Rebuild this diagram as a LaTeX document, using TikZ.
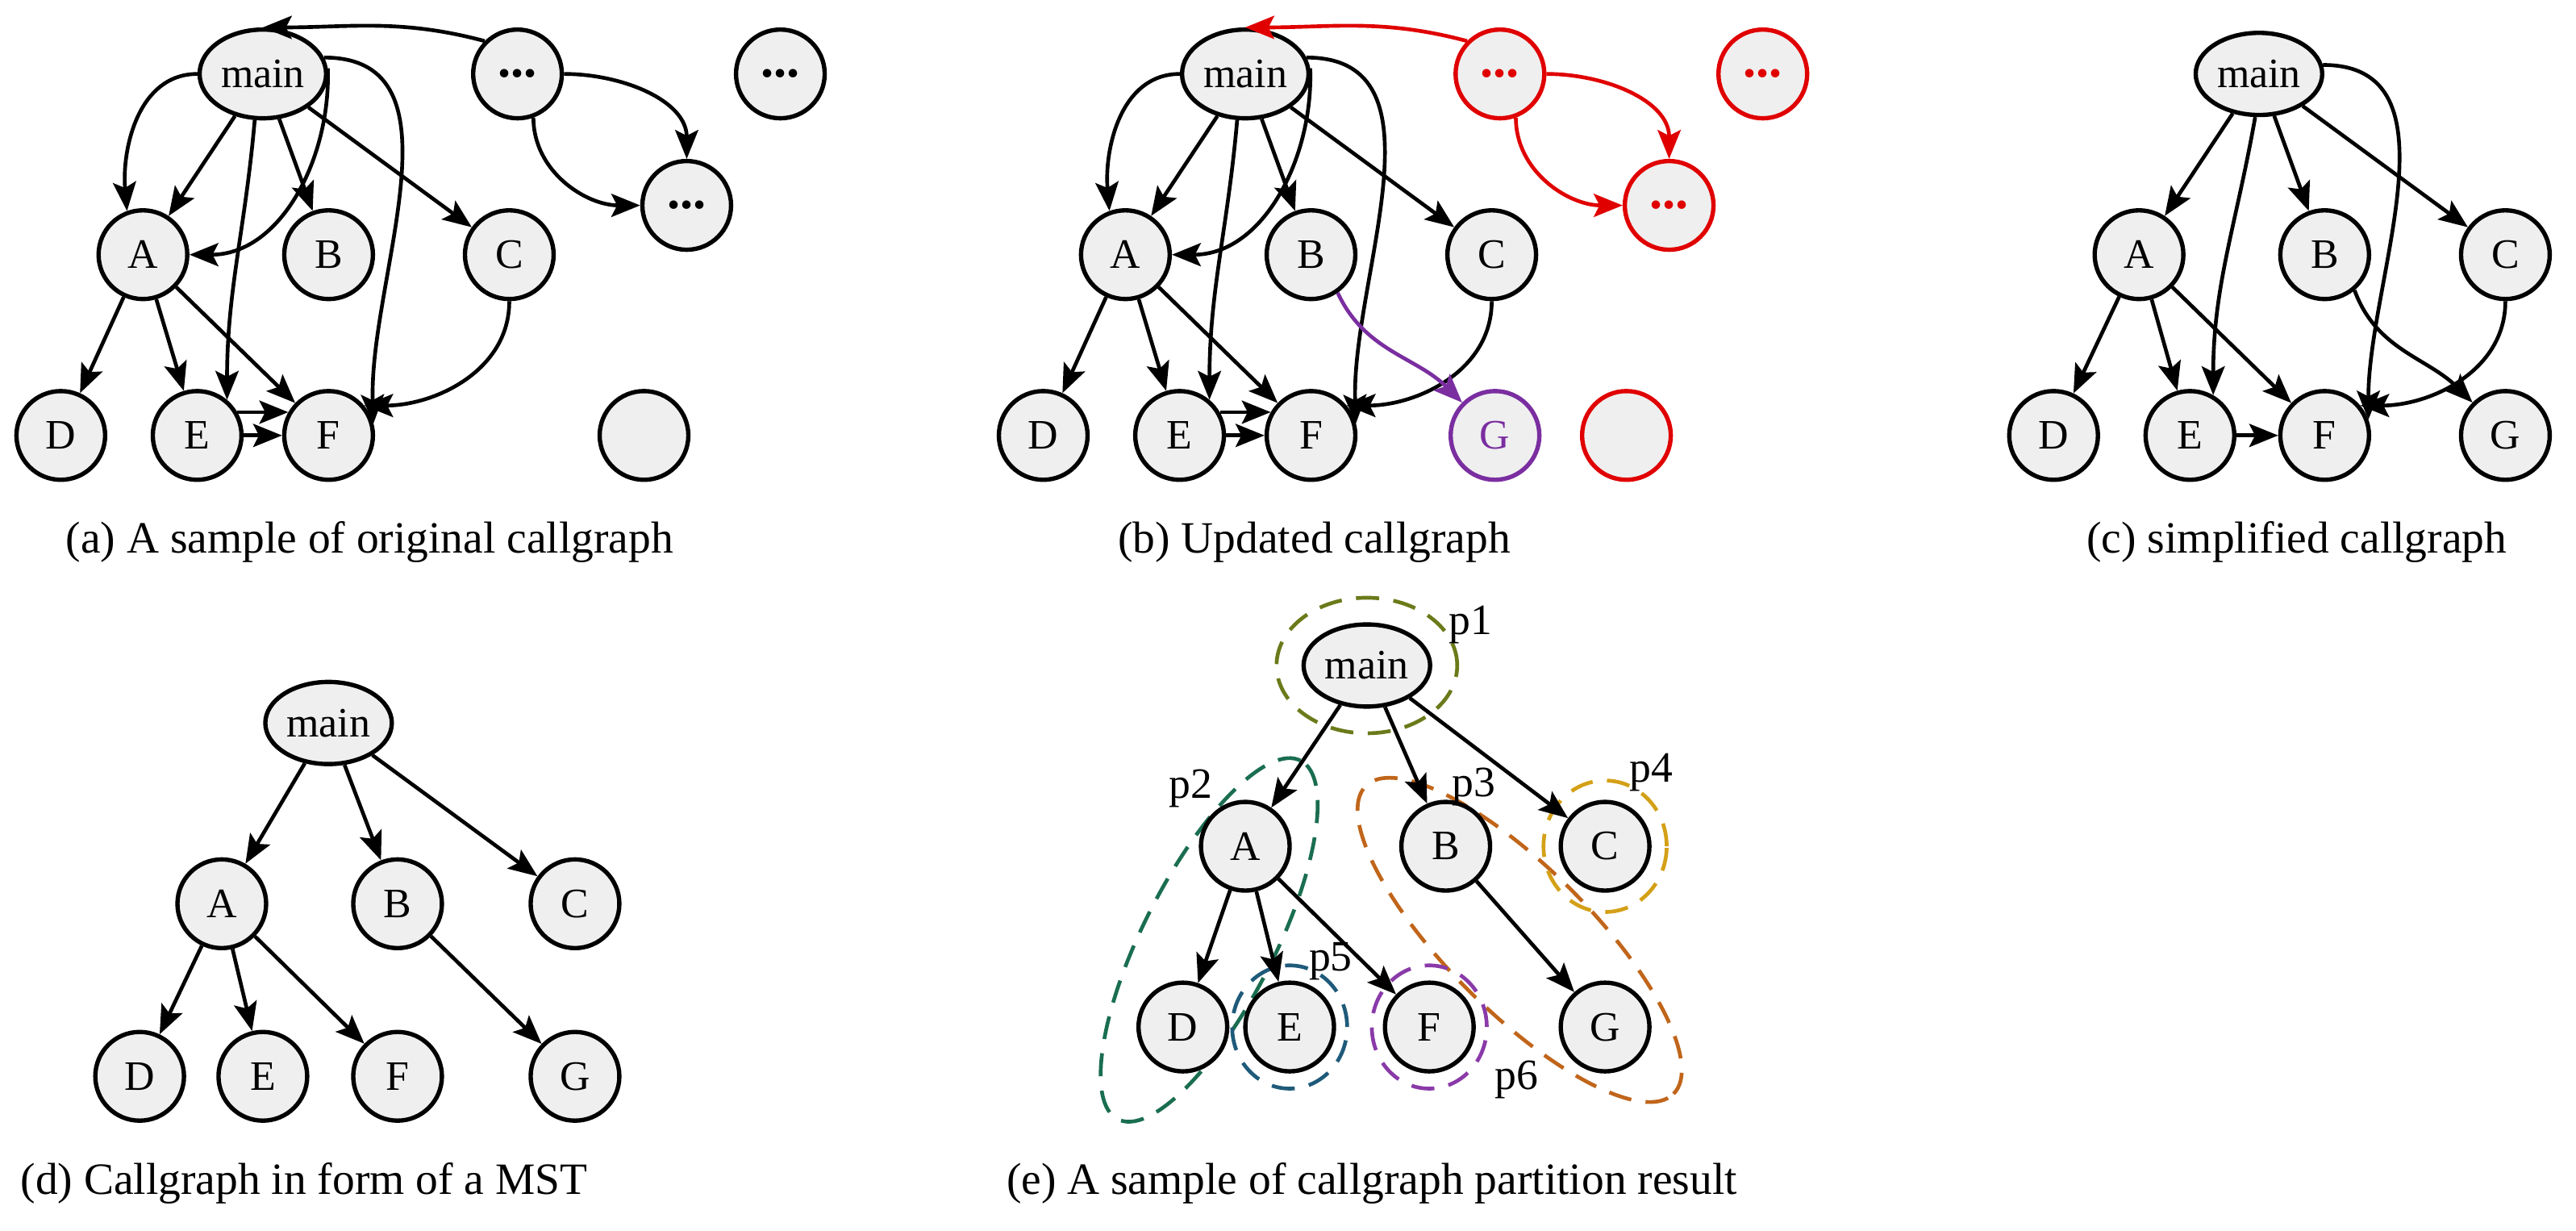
\documentclass[tikz,border=0pt]{standalone}
\usepackage{fontspec}
\setmainfont{Liberation Serif}
\usetikzlibrary{arrows.meta,shapes.geometric}
\definecolor{nodefill}{HTML}{EFEFEF}
\definecolor{cgred}{HTML}{E00000}
\definecolor{cgpurple}{HTML}{7A2EA0}
\definecolor{pone}{HTML}{6B7A1A}
\definecolor{ptwo}{HTML}{1A6E50}
\definecolor{pthree}{HTML}{C0651A}
\definecolor{pfour}{HTML}{D4A017}
\definecolor{pfive}{HTML}{1F5A7A}
\definecolor{psix}{HTML}{8A3AA8}

% full callgraph of panels (a) and (b); #1 = colour of the unreachable part
\newcommand{\cgfull}[1]{
  \node[fn] (m) at (160,45) {main};
  \node[cn] (A) at (87,155) {A};
  \node[cn] (B) at (200,155) {B};
  \node[cn] (C) at (310,155) {C};
  \node[cn] (D) at (37,265) {D};
  \node[cn] (E) at (120,265) {E};
  \node[cn] (F) at (200,265) {F};
  \node[cn, draw=#1, text=#1] (d1) at (315,45) {\dotstxt};
  \node[cn, draw=#1, text=#1] (d2) at (418,125) {\dotstxt};
  \node[cn, draw=#1, text=#1] (d3) at (475,45) {\dotstxt};
  \node[cn, draw=#1] (X) at (392,265) {};
  \draw[call] (m.west) to[out=180,in=95] (A.110);
  \draw[call] (m) -- (A);
  \draw[call] (m.260) to[out=265,in=90] (E.50);
  \draw[call] (m) -- (B);
  \draw[call] (m.5) to[out=-88,in=0] (A.east);
  \draw[call] (m.15) to[out=0,in=92] (F.15);
  \draw[call] (m) -- (C);
  \draw[call] (A) -- (D);
  \draw[call] (A) -- (E);
  \draw[call] (A) -- (F);
  \draw[call] (C.south) to[out=-90,in=0] (F.40);
  \draw[call] (E.30) -- (F.150);
  \draw[call] (E.east) -- (F.west);
  \draw[call, color=#1] (d1.north west) to[out=165,in=0] (m.north);
  \draw[call, color=#1] (d1.east) to[out=0,in=90] (d2.north);
  \draw[call, color=#1] (d1.-70) to[out=-90,in=180] (d2.west);
}
\newcommand{\dotstxt}{\fontsize{18}{18}\selectfont\textbf{...}}

\begin{document}
\begin{tikzpicture}[x=0.02cm, y=-0.02cm,
  cn/.style={circle, draw, line width=1.5pt, fill=nodefill, minimum size=1.08cm,
    inner sep=0pt, font=\fontsize{14.5}{16}\selectfont},
  fn/.style={ellipse, draw, line width=1.5pt, fill=nodefill, minimum width=1.35cm,
    minimum height=1.08cm, inner sep=1pt, font=\fontsize{14.5}{16}\selectfont},
  fn2/.style={fn, minimum width=1.52cm, minimum height=1.0cm},
  call/.style={line width=1.3pt, -{Stealth[length=10pt,width=8pt,inset=2pt]}},
  part/.style={draw=#1, line width=1.3pt, dash pattern=on 8pt off 5pt, ellipse,
    inner sep=0pt},
  captxt/.style={font=\fontsize{15.5}{18}\selectfont},
  lbl/.style={font=\fontsize{15}{16}\selectfont, inner sep=0pt}]
\useasboundingbox (0,0) rectangle (1568,749);

% (a) original callgraph
\begin{scope}[name prefix=a-]
  \cgfull{black}
  \node[captxt] (cap) at (225,330) {(a) A sample of original callgraph};
\end{scope}

% (b) updated callgraph
\begin{scope}[shift={(598,0)}, name prefix=b-]
  \cgfull{cgred}
  \node[cn, draw=cgpurple, text=cgpurple] (G) at (312,265) {G};
  \draw[call, color=cgpurple] (B.-55) to[out=-65,in=135] (G.135);
  \node[captxt] (cap) at (202,330) {(b) Updated callgraph};
\end{scope}

% (c) simplified callgraph
\begin{scope}[name prefix=c-]
  \node[fn2] (m) at (1375,45) {main};
  \node[cn] (A) at (1302,155) {A};
  \node[cn] (B) at (1415,155) {B};
  \node[cn] (C) at (1525,155) {C};
  \node[cn] (D) at (1250,265) {D};
  \node[cn] (E) at (1333,265) {E};
  \node[cn] (F) at (1415,265) {F};
  \node[cn] (G) at (1525,265) {G};
  \draw[call] (m) -- (A);
  \draw[call] (m.265) to[out=260,in=90] (E.60);
  \draw[call] (m) -- (B);
  \draw[call] (m.8) to[out=0,in=90] (F.20);
  \draw[call] (m) -- (C);
  \draw[call] (A) -- (D);
  \draw[call] (A) -- (E);
  \draw[call] (A) -- (F);
  \draw[call] (B.-50) to[out=-70,in=135] (G.135);
  \draw[call] (C.south) to[out=-90,in=0] (F.40);
  \draw[call] (E) -- (F);
  \node[captxt] (cap) at (1398,330) {(c) simplified callgraph};
\end{scope}

% (d) MST
\begin{scope}[name prefix=d-]
  \node[fn2] (m) at (200,440) {main};
  \node[cn] (A) at (135,550) {A};
  \node[cn] (B) at (242,550) {B};
  \node[cn] (C) at (350,550) {C};
  \node[cn] (D) at (85,655) {D};
  \node[cn] (E) at (160,655) {E};
  \node[cn] (F) at (242,655) {F};
  \node[cn] (G) at (350,655) {G};
  \draw[call] (m) -- (A);
  \draw[call] (m) -- (B);
  \draw[call] (m) -- (C);
  \draw[call] (A) -- (D);
  \draw[call] (A) -- (E);
  \draw[call] (A) -- (F);
  \draw[call] (B) -- (G);
  \node[captxt] (cap) at (185,720) {(d) Callgraph in form of a MST};
\end{scope}

% (e) partition result
\begin{scope}[name prefix=e-]
  \node[part=pone, minimum width=2.2cm, minimum height=1.65cm] (p1) at (832,405) {};
  \node[part=ptwo, minimum width=4.9cm, minimum height=1.6cm, rotate=63] (p2) at (736,572) {};
  \node[part=pthree, minimum width=5.3cm, minimum height=1.75cm, rotate=-45] (p3) at (925,572) {};
  \node[part=pfour, minimum width=1.5cm, minimum height=1.6cm] (p4) at (977,515) {};
  \node[part=pfive, minimum width=1.4cm, minimum height=1.5cm] (p5) at (785,625) {};
  \node[part=psix, minimum width=1.4cm, minimum height=1.5cm] (p6) at (870,625) {};
  \node[fn2] (m) at (832,405) {main};
  \node[cn] (A) at (758,515) {A};
  \node[cn] (B) at (880,515) {B};
  \node[cn] (C) at (977,515) {C};
  \node[cn] (D) at (720,625) {D};
  \node[cn] (E) at (785,625) {E};
  \node[cn] (F) at (870,625) {F};
  \node[cn] (G) at (977,625) {G};
  \draw[call] (m) -- (A);
  \draw[call] (m) -- (B);
  \draw[call] (m) -- (C);
  \draw[call] (A) -- (D);
  \draw[call] (A) -- (E);
  \draw[call] (A) -- (F);
  \draw[call] (B) -- (G);
  \node[lbl] (l1) at (895,380) {p1};
  \node[lbl] (l2) at (725,480) {p2};
  \node[lbl] (l3) at (897,479) {p3};
  \node[lbl] (l4) at (1005,470) {p4};
  \node[lbl] (l5) at (810,585) {p5};
  \node[lbl] (l6) at (923,657) {p6};
  \node[captxt] (cap) at (835,720) {(e) A sample of callgraph partition result};
\end{scope}
\end{tikzpicture}
\end{document}
